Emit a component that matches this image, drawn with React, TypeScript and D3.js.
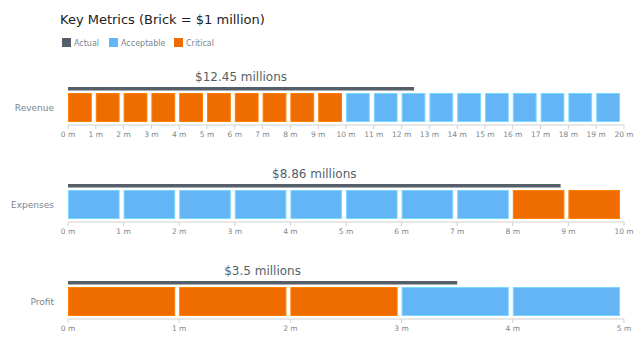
import React from "react"
import * as d3 from "d3"

const WIDTH = 644
const HEIGHT = 350
const FONT = "Verdana, 'DejaVu Sans', sans-serif"

const COLORS = { actual: "#545f69", acceptable: "#64b5f6", critical: "#ef6c00" }

const metrics = ["Revenue", "Expenses", "Profit"]
const actuals = [12.45, 8.86, 3.5]
const actualLabels = ["$12.45 millions", "$8.86 millions", "$3.5 millions"]
const maxValues = [20, 10, 5]
// each row: brick ranges [from, to, kind]
const revenueRanges: [number, number, string][] = [[0, 10, "critical"], [10, 20, "acceptable"]]
const expensesRanges: [number, number, string][] = [[0, 8, "acceptable"], [8, 10, "critical"]]
const profitRanges: [number, number, string][] = [[0, 3, "critical"], [3, 5, "acceptable"]]
const ranges = [revenueRanges, expensesRanges, profitRanges]

const legendItems = [
  { key: "actual", label: "Actual" },
  { key: "acceptable", label: "Acceptable" },
  { key: "critical", label: "Critical" },
]

const X0 = 68
const X1 = 624
const ROW_TOP = 93
const ROW_STEP = 97
const BRICK_H = 29
const GAP = 5

function Row({ index }: { index: number }) {
  const x = d3.scaleLinear().domain([0, maxValues[index]]).range([X0, X1])
  const top = ROW_TOP + index * ROW_STEP
  const axisY = top + BRICK_H + 3
  const bricks: { i: number; kind: string }[] = []
  ranges[index].forEach(([from, to, kind]) => {
    d3.range(from, to).forEach((i) => bricks.push({ i, kind }))
  })
  const ticks = d3.range(0, maxValues[index] + 1)
  const actualEnd = x(actuals[index])
  return (
    <g>
      <text
        x={(X0 + actualEnd) / 2}
        y={top - 12}
        textAnchor="middle"
        fontSize={12}
        fill="#545f69"
      >
        {actualLabels[index]}
      </text>
      <rect x={X0} y={top - 6} width={actualEnd - X0} height={3.5} fill={COLORS.actual} />
      {bricks.map((b) => {
        const fill = COLORS[b.kind as keyof typeof COLORS]
        return (
          <rect
            key={b.i}
            x={x(b.i) + 0.5}
            y={top + 0.5}
            width={x(b.i + 1) - x(b.i) - GAP}
            height={BRICK_H - 1}
            fill={fill}
            stroke={d3.color(fill)!.brighter(0.5).formatHex()}
            strokeWidth={1}
          />
        )
      })}
      <text x={54} y={top + BRICK_H / 2} textAnchor="end" dominantBaseline="central" fontSize={9} fill="#7c868e">
        {metrics[index]}
      </text>
      <line x1={X0} x2={X1} y1={axisY} y2={axisY} stroke="#e0e0e0" strokeWidth={1.5} />
      {ticks.map((t) => (
        <g key={t}>
          <line x1={x(t)} x2={x(t)} y1={axisY} y2={axisY + 4} stroke="#d0d0d0" />
          <text x={x(t)} y={axisY + 12} textAnchor="middle" fontSize={7.5} fill="#7c868e">
            {`${t} m`}
          </text>
        </g>
      ))}
    </g>
  )
}

export default function App() {
  const legendX = [62, 109, 174]
  return (
    <div style={{ position: "absolute", left: 0, top: 0 }}>
      <svg width={WIDTH} height={HEIGHT} style={{ fontFamily: FONT, display: "block", background: "#fff" }}>
        <text x={60} y={24} fontSize={13} fill="#212121">
          Key Metrics (Brick = $1 million)
        </text>
        {legendItems.map((d, i) => (
          <g key={d.key}>
            <rect x={legendX[i]} y={38} width={9} height={9} fill={COLORS[d.key as keyof typeof COLORS]} />
            <text x={legendX[i] + 12} y={46} fontSize={8} fill="#7c868e">
              {d.label}
            </text>
          </g>
        ))}
        {metrics.map((m, i) => (
          <Row key={m} index={i} />
        ))}
      </svg>
    </div>
  )
}
